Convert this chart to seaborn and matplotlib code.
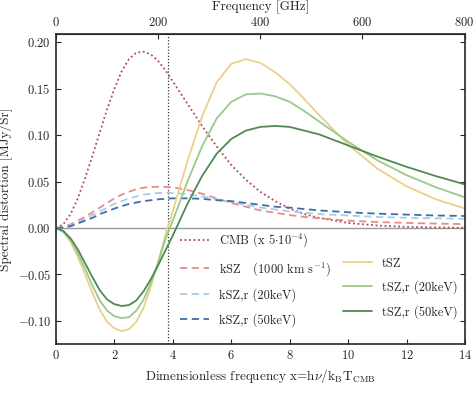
import pandas as pd
import matplotlib.pyplot as plt
import seaborn as sns

# values (x = h nu / k T_CMB)
x_pts = [0, 0.25, 0.5, 0.75, 1, 1.25, 1.5, 1.75, 2, 2.25, 2.5, 2.75, 3, 3.25, 3.5, 3.75, 4,
         4.5, 5, 5.5, 6, 6.5, 7, 7.5, 8, 8.5, 9, 10, 11, 12, 13, 14]

cmb = [0, 0.004, 0.015, 0.032, 0.054, 0.078, 0.103, 0.128, 0.150, 0.169, 0.182, 0.189, 0.190, 0.187, 0.180, 0.170, 0.158,
       0.134, 0.110, 0.088, 0.068, 0.052, 0.039, 0.029, 0.021, 0.015, 0.011, 0.0055, 0.0027, 0.0013, 0.0006, 0.0003]
ksz = [0, 0.001, 0.004, 0.008, 0.012, 0.017, 0.022, 0.027, 0.032, 0.036, 0.039, 0.042, 0.0435, 0.0443, 0.0445, 0.0443, 0.044,
       0.041, 0.037, 0.032, 0.027, 0.023, 0.019, 0.0165, 0.014, 0.012, 0.0105, 0.008, 0.0065, 0.0055, 0.0048, 0.0042]
ksz20 = [0, 0.001, 0.003, 0.006, 0.010, 0.014, 0.018, 0.022, 0.026, 0.029, 0.032, 0.034, 0.036, 0.037, 0.0378, 0.038, 0.0378,
         0.0365, 0.034, 0.031, 0.028, 0.025, 0.022, 0.020, 0.018, 0.0165, 0.015, 0.0135, 0.012, 0.011, 0.0105, 0.010]
ksz50 = [0, 0.0005, 0.002, 0.005, 0.008, 0.011, 0.015, 0.018, 0.021, 0.0235, 0.026, 0.0275, 0.029, 0.030, 0.031, 0.0315, 0.032,
         0.032, 0.0315, 0.030, 0.029, 0.027, 0.025, 0.023, 0.022, 0.0205, 0.019, 0.017, 0.0155, 0.0145, 0.0135, 0.013]
tsz = [0, -0.004, -0.015, -0.031, -0.050, -0.070, -0.088, -0.101, -0.108, -0.111, -0.109, -0.101, -0.086, -0.063, -0.036, -0.007, 0.018,
       0.072, 0.120, 0.157, 0.177, 0.182, 0.178, 0.168, 0.155, 0.139, 0.122, 0.090, 0.064, 0.045, 0.031, 0.021]
tsz20 = [0, -0.004, -0.013, -0.027, -0.044, -0.062, -0.078, -0.089, -0.095, -0.097, -0.096, -0.089, -0.077, -0.059, -0.037, -0.012, 0.008,
         0.050, 0.088, 0.118, 0.136, 0.144, 0.145, 0.142, 0.136, 0.126, 0.115, 0.093, 0.073, 0.057, 0.044, 0.033]
tsz50 = [0, -0.003, -0.011, -0.023, -0.038, -0.053, -0.067, -0.077, -0.082, -0.084, -0.083, -0.078, -0.068, -0.055, -0.040, -0.024, -0.008,
         0.026, 0.056, 0.080, 0.096, 0.105, 0.109, 0.110, 0.109, 0.105, 0.101, 0.089, 0.077, 0.066, 0.056, 0.047]

series = [
    ("CMB (x 5$\\cdot$10$^{-4}$)", cmb, "#b5484f", (0, (1, 1.5))),
    ("kSZ   (1000 km s$^{-1}$)", ksz, "#ec8a87", (0, (4, 2.5))),
    ("kSZ,r (20keV)", ksz20, "#a9cbe8", (0, (4, 2.5))),
    ("kSZ,r (50keV)", ksz50, "#3f6fa5", (0, (4, 2.5))),
    ("tSZ", tsz, "#ecd08a", "-"),
    ("tSZ,r (20keV)", tsz20, "#9cc98a", "-"),
    ("tSZ,r (50keV)", tsz50, "#4f8a52", "-"),
]

sns.set_style("ticks")
plt.rcParams['font.family'] = ['cmr10', 'DejaVu Serif']
plt.rcParams['mathtext.fontset'] = 'cm'
plt.rcParams['axes.formatter.use_mathtext'] = True

fig = plt.figure(figsize=(4.74, 4.01), dpi=100)
ax = fig.add_axes([0.118, 0.142, 0.863, 0.773])

ax.axhline(0, color="#999999", lw=1)
ax.axvline(3.83, color="#333333", lw=0.9, ls=(0, (1, 1.5)))

handles = {}
for name, vals, col, ls in series:
    df = pd.DataFrame({"x": x_pts, "y": vals})
    sns.lineplot(data=df, x="x", y="y", ax=ax, color=col, lw=1.3, linestyle=ls)
    handles[name] = ax.lines[-1]

ax.set_xlim(0, 14)
ax.set_ylim(-0.125, 0.209)
ax.set_xticks(range(0, 15, 2))
ax.set_yticks([-0.10, -0.05, 0, 0.05, 0.10, 0.15, 0.20])
ax.yaxis.set_major_formatter(plt.FuncFormatter(lambda v, p: f"${v:.2f}$"))
ax.set_xlabel("Dimensionless frequency x=h$\\nu$/k$_{\\rm B}$T$_{\\rm CMB}$", fontsize=9.5)
ax.set_ylabel("Spectral distortion [MJy/Sr]", fontsize=9.5, labelpad=3)
ax.tick_params(direction="in", labelsize=9, right=True)
for s in ax.spines.values():
    s.set_linewidth(1.2)

top = ax.secondary_xaxis("top", functions=(lambda x: x * 57.2, lambda f: f / 57.2))
top.set_xticks([0, 200, 400, 600, 800])
top.tick_params(direction="in", labelsize=9)
top.set_xlabel("Frequency [GHz]", fontsize=9.5)

blank, = ax.plot([], [], color="none")
names = [s[0] for s in series]
order = [handles[names[0]], handles[names[1]], handles[names[2]], handles[names[3]],
         blank, handles[names[4]], handles[names[5]], handles[names[6]]]
labels = names[:4] + [""] + names[4:]
ax.legend(order, labels, ncol=2, frameon=False, fontsize=9, loc="lower right",
          bbox_to_anchor=(1.01, 0.02), handlelength=2.3, columnspacing=1.0, labelspacing=0.85)

fig.savefig("out.png", dpi=100)
